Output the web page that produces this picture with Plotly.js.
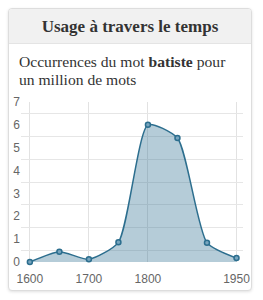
<!DOCTYPE html>
<html>
<head>
<meta charset="utf-8">
<script src="https://cdn.plot.ly/plotly-3.0.1.min.js"></script>
<style>
  html, body { margin:0; padding:0; width:263px; height:300px; background:#fff; overflow:hidden; }
  #card { position:absolute; left:8px; top:8px; width:242px; height:281px; border:1px solid #ddd; border-radius:4px; box-shadow:0 1px 3px rgba(0,0,0,0.12); background:#fff; overflow:hidden; }
  #head { height:34px; background:#f1f1f1; border-bottom:1px solid #e4e4e4; text-align:center; font-family:"Liberation Serif", serif; font-weight:bold; font-size:17px; line-height:35px; color:#333; }
  .sl { position:absolute; left:10px; font-family:"Liberation Serif", serif; font-size:15.6px; line-height:18px; color:#333; white-space:nowrap; }
  .sl span { display:inline-block; }
  .sl b { display:inline-block; margin:0 4px; }
  #chart { position:absolute; left:0; top:0; width:263px; height:300px; }
</style>
</head>
<body>
<div id="card">
  <div id="head">Usage à travers le temps</div>
  <div class="sl" style="top:44px"><span>Occurrences du mot</span><b>batiste</b><span>pour</span></div>
  <div class="sl" style="top:62px"><span>un million de mots</span></div>
</div>
<div id="chart"></div>
<script>
const years = [1600, 1650, 1700, 1750, 1800, 1850, 1900, 1950];
const occurrences = [0.0, 0.45, 0.12, 0.86, 6.0, 5.42, 0.84, 0.17];
const xTickVals = [1600, 1700, 1800, 1950];
const yTickVals = [0, 1, 2, 3, 4, 5, 6, 7];
const yGridVals = [0.5, 1.5, 2.5, 3.5, 4.5, 5.5, 6.5];

const lineColor = 'rgb(44,110,142)';
const trace = {
  x: years, y: occurrences,
  type: 'scatter', mode: 'lines+markers',
  line: { color: lineColor, width: 1.5, shape: 'spline', smoothing: 0.6 },
  fill: 'tozeroy', fillcolor: 'rgba(44,110,142,0.35)',
  marker: { size: 5, color: 'rgba(120,165,190,1)', line: { color: lineColor, width: 1.5 } },
  cliponaxis: false, hoverinfo: 'none'
};
const gridTrace = { x: [years[0]], y: [0], yaxis: 'y2', type: 'scatter', mode: 'markers', marker: { opacity: 0 }, hoverinfo: 'none', showlegend: false };

const layout = {
  width: 263, height: 300,
  margin: { l: 21, r: 20, t: 101.5, b: 37.5 },
  paper_bgcolor: 'rgba(0,0,0,0)', plot_bgcolor: 'rgba(0,0,0,0)',
  showlegend: false,
  xaxis: { range: [1585, 1961], tickvals: xTickVals, ticktext: xTickVals.map(String), showgrid: true, gridcolor: '#e2e2e2', gridwidth: 1, zeroline: false, showline: false, ticks: 'outside', ticklen: 6, tickcolor: 'rgba(0,0,0,0)', tickfont: { family: 'Liberation Sans, Arial, sans-serif', size: 12, color: '#666' }, fixedrange: true },
  yaxis: { range: [0, 7], tickvals: yTickVals, showgrid: false, zeroline: false, showline: false, ticks: '', tickfont: { family: 'Liberation Sans, Arial, sans-serif', size: 12, color: '#666' }, fixedrange: true },
  yaxis2: { range: [0, 7], overlaying: 'y', tickvals: yGridVals, showticklabels: false, showgrid: true, gridcolor: '#e6e6e6', zeroline: false, showline: false, ticks: '', fixedrange: true }
};
Plotly.newPlot('chart', [gridTrace, trace], layout, { displayModeBar: false, staticPlot: true });
</script>
</body>
</html>
